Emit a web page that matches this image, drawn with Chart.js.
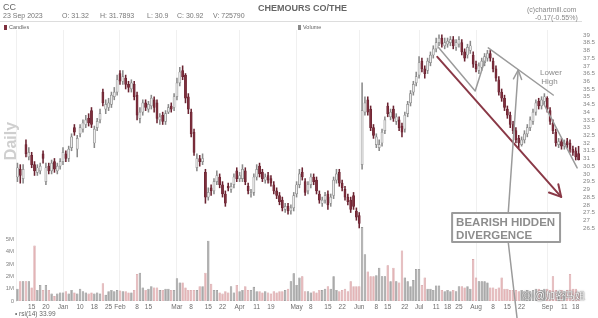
<!DOCTYPE html>
<html><head><meta charset="utf-8">
<script src="https://cdn.jsdelivr.net/npm/chart.js@4.4.0/dist/chart.umd.min.js"></script>
<style>
html,body{margin:0;padding:0;background:#fff;}
#wrap{position:relative;width:598px;height:318px;overflow:hidden;font-family:"Liberation Sans",Arial,sans-serif;background:#fff;}
#c{position:absolute;left:0;top:0;}
.t{position:absolute;white-space:pre;color:#777;line-height:1;}
</style></head><body>
<div id="wrap">
<canvas id="c" width="598" height="318"></canvas>
<div class="t" style="left:3px;top:3px;font-size:9px;color:#666;">CC</div>
<div class="t" style="left:3px;top:12px;font-size:7px;">23 Sep 2023</div>
<div class="t" style="left:62px;top:12px;font-size:7px;">O: 31.32</div>
<div class="t" style="left:100px;top:12px;font-size:7px;">H: 31.7893</div>
<div class="t" style="left:147px;top:12px;font-size:7px;">L: 30.9</div>
<div class="t" style="left:177px;top:12px;font-size:7px;">C: 30.92</div>
<div class="t" style="left:213px;top:12px;font-size:7px;">V: 725790</div>
<div style="position:absolute;left:0;top:21px;width:582px;border-top:1px solid #ddd;"></div>
<div class="t" style="left:4px;top:25px;font-size:5.5px;color:#666;"><span style="display:inline-block;width:3px;height:5px;background:#7e2f3d;margin-right:2px;vertical-align:-1px;"></span>Candles</div>
<div class="t" style="left:258px;top:4px;font-size:9px;font-weight:bold;color:#666;">CHEMOURS CO/THE</div>
<div class="t" style="left:298px;top:25px;font-size:5.5px;color:#666;"><span style="display:inline-block;width:3px;height:5px;background:#8a8a8a;margin-right:2px;vertical-align:-1px;"></span>Volume</div>
<div class="t" style="left:527px;top:6px;font-size:7px;color:#888;">(c)chartmill.com</div>
<div class="t" style="left:535px;top:14px;font-size:7px;color:#888;">-0.17(-0.55%)</div>
<div class="t" style="left:-8px;top:133px;font-size:16px;font-weight:bold;color:#cfcfcf;transform:rotate(-90deg);">Daily</div>
<div class="t" style="left:15px;top:311px;font-size:6.5px;color:#666;">• rsi(14) 33.99</div>
<div class="t" style="left:522px;top:291px;font-size:10px;color:#fff;text-shadow:0 0 2px #555,0 0 1px #555;">◎ @加密马姐</div>
</div>
<script>
// ---- data ----
const opens = [
29.8,30.3,29.7,31.9,31.1,31.2,30.6,30.1,30.2,31.3,
29.5,30.5,30.2,30.8,30.2,30.5,30.8,31.3,31.0,31.7,
33.0,31.6,32.6,32.9,33.2,33.6,34.1,32.0,33.0,33.5,
35.3,34.2,34.3,34.5,35.0,35.3,36.5,36.0,36.2,35.8,
35.5,35.8,35.1,33.6,34.0,34.6,34.2,34.4,34.8,34.6,
33.5,33.8,33.4,34.0,34.4,34.3,35.0,35.9,36.7,36.4,
35.0,34.0,32.7,30.4,31.0,30.8,30.1,28.5,29.1,28.9,
29.5,29.8,29.3,28.7,29.2,29.0,29.3,30.2,29.7,29.7,
30.2,29.2,28.7,28.8,29.8,30.5,30.1,29.6,29.9,29.7,
29.3,28.9,28.6,28.3,27.7,27.9,27.6,27.8,28.7,29.3,
30.1,29.5,28.9,29.3,29.8,29.6,28.7,28.1,28.3,28.7,
28.1,28.6,29.6,30.1,29.4,29.0,28.5,28.3,28.6,27.6,
27.3,30.6,34.0,34.8,34.2,33.0,31.9,31.7,32.0,32.8,
34.4,33.7,34.2,33.4,33.5,33.1,32.9,33.9,34.6,35.3,
35.9,36.4,37.3,36.8,36.7,37.2,37.7,38.1,38.5,38.8,
38.3,38.4,38.5,38.7,38.2,38.4,38.5,37.9,37.7,38.0,
37.7,37.1,36.7,36.9,37.2,37.5,37.8,37.3,36.8,36.1,
35.3,34.9,34.2,33.8,33.2,32.8,32.3,31.9,32.2,32.6,
33.0,33.4,34.0,34.7,34.4,34.7,34.9,34.1,33.3,32.7,
31.9,32.1,31.8,32.1,32.0,31.6,31.5,31.32];
const highs = [
30.7,30.6,30.6,32.2,31.7,31.4,30.8,30.6,30.7,31.5,
30.7,30.7,30.9,31.0,30.7,31.0,31.7,31.5,31.8,32.6,
33.2,32.5,33.2,33.5,33.8,33.9,34.3,33.1,33.6,34.2,
35.5,34.8,34.9,35.3,35.6,36.4,36.7,36.7,36.4,36.0,
36.1,36.0,35.3,34.3,34.8,34.8,34.7,35.1,35.0,34.8,
33.9,34.0,34.1,34.5,34.6,35.2,36.2,36.9,37.0,36.5,
35.2,34.2,32.9,31.3,31.2,31.3,30.3,29.1,29.3,29.7,
30.2,30.0,29.5,28.9,29.4,29.4,30.0,30.4,30.1,30.6,
30.4,29.4,29.0,30.0,30.6,30.7,30.3,30.0,30.1,29.9,
29.5,29.1,28.8,28.5,28.1,28.1,28.0,28.8,29.5,30.3,
30.4,29.7,29.5,30.0,30.0,29.8,28.9,28.5,28.8,28.9,
28.7,29.8,30.3,30.3,29.6,29.2,28.7,28.5,28.8,27.8,
27.5,35.9,35.0,35.0,34.4,33.2,32.6,32.2,32.9,33.7,
34.6,34.2,34.4,33.9,33.7,33.3,34.0,34.7,35.4,36.0,
36.6,37.6,37.5,37.0,37.5,37.9,38.3,38.8,39.0,39.0,
38.8,38.8,38.9,38.9,38.7,38.9,38.7,38.1,38.4,38.6,
37.9,37.3,37.2,37.5,37.8,38.0,38.0,37.5,37.0,36.3,
35.5,35.1,34.4,34.0,33.4,33.0,32.5,32.4,32.8,33.2,
33.7,34.2,34.8,34.9,35.0,35.2,35.0,34.3,33.5,32.9,
32.3,32.3,32.2,32.3,32.2,31.8,31.7,31.79];
const lows = [
29.5,29.4,29.4,31.1,30.9,30.4,29.9,29.9,30.0,30.7,
29.3,30.0,30.0,30.1,30.0,30.3,30.6,30.8,30.8,31.5,
32.5,31.1,32.4,32.7,33.0,33.1,33.0,31.7,32.8,33.3,
34.4,33.9,34.1,34.3,34.8,35.1,35.8,35.8,35.5,35.3,
35.3,34.8,33.5,33.3,33.8,34.1,34.0,34.2,34.0,33.3,
33.2,33.2,33.2,33.9,34.0,34.1,34.8,35.7,36.1,34.6,
33.9,32.4,31.2,30.2,30.5,30.6,28.1,28.3,28.6,28.7,
29.3,29.1,28.5,27.9,28.9,28.8,29.1,29.5,29.5,29.5,
29.3,28.7,28.5,28.6,29.6,29.8,29.5,29.4,29.4,29.2,
28.7,28.4,28.0,27.6,27.5,27.4,27.4,27.6,28.5,29.1,
29.6,28.6,28.7,29.1,29.3,28.7,28.1,27.9,28.1,27.7,
27.9,28.4,29.4,29.2,28.9,28.3,28.0,27.5,27.7,27.0,
26.5,30.3,33.8,33.8,32.8,32.3,31.7,31.5,31.8,32.6,
33.7,33.5,33.4,33.2,32.8,32.4,32.7,33.7,34.4,35.1,
35.7,36.2,36.6,36.2,36.5,37.0,37.5,37.9,38.3,38.2,
38.1,38.2,38.3,38.1,38.0,38.2,37.7,37.3,37.5,37.8,
36.9,36.6,36.5,36.7,37.0,37.3,37.3,36.6,36.0,35.1,
34.7,34.1,33.6,33.0,32.6,32.0,31.7,31.8,32.0,32.4,
32.8,33.2,33.8,34.2,34.2,34.5,34.0,33.2,32.6,31.8,
31.7,31.6,31.6,31.7,31.4,31.2,30.9,30.9];
const closes = [
30.4,29.9,30.3,31.3,31.4,30.6,30.2,30.4,30.5,31.0,
30.4,30.2,30.7,30.3,30.5,30.8,31.4,31.0,31.6,32.4,
32.7,32.3,33.0,33.3,33.5,33.3,33.2,32.9,33.4,33.9,
34.6,34.5,34.6,35.1,35.3,36.1,36.0,36.3,35.8,35.6,
35.9,35.0,33.8,34.0,34.6,34.3,34.5,34.9,34.3,33.6,
33.7,33.4,33.9,34.3,34.2,35.0,35.9,36.6,36.3,34.9,
34.2,32.6,31.4,31.0,30.8,31.0,28.5,28.8,28.9,29.5,
29.9,29.3,28.7,28.1,29.1,29.2,29.8,29.7,29.9,30.3,
29.5,28.9,28.8,29.8,30.3,30.0,29.7,29.8,29.6,29.4,
28.9,28.6,28.2,27.8,27.9,27.6,27.8,28.6,29.3,30.0,
29.8,28.8,29.3,29.8,29.5,28.9,28.3,28.3,28.6,28.0,
28.5,29.6,30.0,29.4,29.1,28.5,28.2,27.7,27.9,27.2,
26.8,34.1,34.6,34.0,33.0,32.5,32.4,31.9,32.7,33.5,
33.9,34.0,33.6,33.7,33.0,32.7,33.8,34.5,35.2,35.8,
36.3,37.2,36.8,36.5,37.3,37.7,38.1,38.5,38.8,38.4,
38.5,38.6,38.7,38.3,38.5,38.7,37.9,37.5,38.2,38.3,
37.1,36.8,37.0,37.3,37.6,37.8,37.5,36.8,36.2,35.3,
34.9,34.3,33.8,33.2,32.8,32.2,32.0,32.2,32.6,33.0,
33.5,34.0,34.6,34.4,34.8,35.0,34.2,33.4,32.8,32.0,
32.1,31.8,32.0,31.9,31.6,31.4,31.1,30.92];
// volume in millions of shares
const volumes = [
1.0,1.6,1.6,1.6,1.6,1.1,4.5,0.9,1.3,0.9,
1.3,0.9,0.6,0.4,0.6,0.7,0.7,0.8,0.6,0.9,
0.7,0.6,1.0,0.8,0.7,0.6,0.7,0.6,0.7,0.6,
1.45,0.5,0.8,0.9,0.8,0.9,0.85,0.8,0.8,0.7,
0.7,0.9,2.2,2.3,1.1,0.9,1.0,1.2,1.1,1.1,
0.9,0.9,1.0,1.0,0.9,0.9,1.85,1.5,1.5,1.1,
0.9,0.9,0.9,0.9,1.2,1.2,2.3,4.9,1.4,0.9,
0.9,0.7,0.6,0.8,0.7,1.2,0.7,1.3,0.8,0.9,
1.2,0.9,0.9,1.15,0.8,0.8,0.7,0.8,0.7,0.6,
0.8,0.7,0.8,0.8,0.9,1.0,1.6,2.25,1.3,1.9,
2.0,0.8,0.8,0.7,0.8,0.7,0.9,0.9,1.0,1.2,
1.0,2.0,0.9,0.8,0.9,1.0,0.8,1.6,1.2,1.2,
1.2,6.0,3.8,2.4,2.0,2.0,2.1,2.7,2.0,2.0,
2.9,1.6,2.7,1.6,1.5,4.1,1.9,1.6,1.2,1.7,
2.6,2.6,1.3,1.9,1.0,1.0,0.9,1.25,1.25,0.9,
0.8,0.9,0.8,0.9,0.8,1.2,1.2,1.1,1.2,1.0,
3.4,1.9,1.6,1.6,1.6,1.5,1.1,1.1,1.0,1.1,
1.9,1.0,1.0,0.9,0.9,0.9,0.8,0.9,0.8,0.9,
0.8,0.9,1.0,1.0,0.9,1.0,1.0,0.9,2.0,0.9,
0.8,0.9,0.8,0.9,2.2,1.0,1.0,0.7];
const holidays = ['2022-12-26','2023-01-02','2023-01-16','2023-02-20','2023-04-07','2023-05-29','2023-06-19','2023-07-04','2023-09-04'];
const xTickIndex = [5,10,16,22,27,32,36,42,46,56,61,67,72,78,84,89,98,103,109,114,120,126,130,136,141,147,151,155,161,167,172,177,186,192,196];
const xTickText = ['15','20','Jan','10','18','25','Feb','8','15','Mar','8','15','22','Apr','11','19','May','8','15','22','Jun','8','15','22','Jul','11','18','25','Aug','8','15','22','Sep','11','18'];
const monthNames = ['Jan','Feb','Mar','Apr','May','Jun','Jul','Aug','Sep'];

// trading-day categories
const categories = [];
(function(){
  const d = new Date(Date.UTC(2022,11,7));
  while (categories.length < closes.length) {
    const s = d.toISOString().slice(0,10), wd = d.getUTCDay();
    if (wd !== 0 && wd !== 6 && !holidays.includes(s)) categories.push(s);
    d.setUTCDate(d.getUTCDate()+1);
  }
})();

// annotations, in (bar index, price) coordinates
const ann = {
  maroonArrow: [[147.4,37.58],[190.9,28.51]],
  greyV: [[147.7,38.22],[160.7,35.37],[164.0,37.3]],
  upperTrend: [[165.3,38.16],[188.1,35.11]],
  lowerTrend: [[184.6,34.6],[196.5,30.39]],
  upArrow: [[172.3,27.47],[175.8,36.73]],
  downLine: [[172.3,25.59],[175.4,20.67]],
  box: [[152.6,27.47],[190.5,25.59]],
  lowerHigh: [[183.5,36.55],[183.9,35.95]]
};

const isUp = i => closes[i] >= opens[i];

const annotPlugin = {
  id: 'annot',
  afterDatasetsDraw(chart) {
    const {ctx, scales:{x, y}} = chart;
    const P = p => [x.getPixelForValue(p[0]), y.getPixelForValue(p[1])];
    const line = (pts, color, w) => {
      ctx.beginPath(); ctx.strokeStyle = color; ctx.lineWidth = w; ctx.lineJoin='round'; ctx.lineCap='round';
      pts.map(P).forEach((q,k) => k ? ctx.lineTo(q[0],q[1]) : ctx.moveTo(q[0],q[1]));
      ctx.stroke();
    };
    const head = (a, b, color, w, len, ang) => {
      const A = P(a), B = P(b);
      const t = Math.atan2(B[1]-A[1], B[0]-A[0]);
      ctx.beginPath(); ctx.strokeStyle = color; ctx.lineWidth = w;
      ctx.moveTo(B[0]-len*Math.cos(t-ang), B[1]-len*Math.sin(t-ang));
      ctx.lineTo(B[0],B[1]);
      ctx.lineTo(B[0]-len*Math.cos(t+ang), B[1]-len*Math.sin(t+ang));
      ctx.stroke();
    };
    ctx.save();
    const grey = '#9b9b9b', maroon = '#8a3947';
    line(ann.greyV, grey, 1.5);
    line(ann.upperTrend, grey, 1.5);
    line(ann.lowerTrend, grey, 1.5);
    line(ann.maroonArrow, maroon, 2);
    head(ann.maroonArrow[0], ann.maroonArrow[1], maroon, 2, 13, 0.5);
    line(ann.upArrow, grey, 1.5);
    head(ann.upArrow[0], ann.upArrow[1], grey, 1.5, 10, 0.42);
    line(ann.downLine, grey, 1.5);
    const b0 = P(ann.box[0]), b1 = P(ann.box[1]);
    ctx.fillStyle = 'rgba(255,255,255,0.92)';
    ctx.fillRect(b0[0], b0[1], b1[0]-b0[0], b1[1]-b0[1]);
    ctx.strokeStyle = '#9b9b9b'; ctx.lineWidth = 2;
    ctx.strokeRect(b0[0], b0[1], b1[0]-b0[0], b1[1]-b0[1]);
    ctx.fillStyle = '#8d8d8d';
    ctx.font = 'bold 11.5px "Liberation Sans", Arial, sans-serif';
    ctx.textBaseline = 'alphabetic'; ctx.textAlign = 'left';
    ctx.fillText('BEARISH HIDDEN', b0[0]+4, b0[1]+13);
    ctx.fillText('DIVERGENCE', b0[0]+4, b0[1]+26);
    ctx.font = '8px "Liberation Sans", Arial, sans-serif';
    ctx.fillStyle = '#8a8a8a'; ctx.textBaseline = 'middle';
    let q = P(ann.lowerHigh[0]); ctx.fillText('Lower', q[0], q[1]);
    q = P(ann.lowerHigh[1]); ctx.fillText('High', q[0], q[1]);
    ctx.restore();
  }
};

new Chart(document.getElementById('c'), {
  type: 'bar',
  data: {
    labels: categories,
    datasets: [
      { label: 'Candles', data: opens.map((o,i) => [o, closes[i]]), yAxisID: 'y', grouped: false,
        barThickness: 2.2, borderSkipped: false, borderWidth: 0.7, order: 0,
        backgroundColor: c => isUp(c.dataIndex) ? '#ececec' : '#7e2f3d',
        borderColor: c => isUp(c.dataIndex) ? '#8a8a8a' : '#6a2331' },
      { label: 'Wicks', data: lows.map((l,i) => [l, highs[i]]), yAxisID: 'y', grouped: false,
        barThickness: 0.9, order: 1,
        backgroundColor: c => isUp(c.dataIndex) ? '#8a8a8a' : '#6a2331' },
      { label: 'Volume', data: volumes.map(v => v*1e6), yAxisID: 'yv', grouped: false,
        barPercentage: 0.85, categoryPercentage: 1, borderWidth: 0.6, borderSkipped: false, order: 2,
        backgroundColor: c => isUp(c.dataIndex) ? 'rgba(160,160,160,0.9)' : 'rgba(226,176,178,0.95)',
        borderColor: c => isUp(c.dataIndex) ? '#858585' : '#cf979b' }
    ]
  },
  options: {
    responsive: false, animation: false, devicePixelRatio: 1,
    layout: { padding: { top: 30, left: 0, right: 0, bottom: 0 } },
    plugins: { legend: { display: false }, tooltip: { enabled: false } },
    scales: {
      x: {
        type: 'category', offset: true,
        afterBuildTicks: s => { s.ticks = s.ticks.filter(t => xTickIndex.includes(t.value)); },
        afterFit: s => { s.height = 17; },
        ticks: { autoSkip: false, maxRotation: 0, padding: 2, color: '#6d6d6d',
          font: { size: 6.5, family: '"Liberation Sans", Arial, sans-serif' },
          callback: v => xTickText[xTickIndex.indexOf(v)] },
        grid: { offset: false, drawTicks: false,
          color: c => (c.tick && monthNames.includes(xTickText[xTickIndex.indexOf(c.tick.value)])) ? 'rgba(0,0,0,0.06)' : 'rgba(0,0,0,0)' },
        border: { display: false }
      },
      y: {
        position: 'right', min: 21.77, max: 39.32,
        afterBuildTicks: s => { s.ticks = s.ticks.filter(t => t.value >= 26.5 && t.value <= 39 && Math.abs(t.value*2 - Math.round(t.value*2)) < 1e-6); },
        afterFit: s => { s.width = 18; },
        ticks: { stepSize: 0.5, includeBounds: false, autoSkip: false, padding: 3, color: '#858585',
          font: { size: 6.2, family: '"Liberation Sans", Arial, sans-serif' },
          callback: v => String(Math.round(v*10)/10) },
        grid: { display: false, drawTicks: false, tickLength: 0 }, border: { display: false }
      },
      yv: {
        position: 'left', min: 0, max: 22e6,
        afterBuildTicks: s => { s.ticks = s.ticks.filter(t => t.value <= 5e6 && t.value % 1e6 === 0); },
        afterFit: s => { s.width = 16; },
        ticks: { stepSize: 1e6, includeBounds: false, autoSkip: false, padding: 2, color: '#858585',
          font: { size: 6, family: '"Liberation Sans", Arial, sans-serif' },
          callback: v => v === 0 ? '0' : (v/1e6) + 'M' },
        grid: { display: false, drawTicks: false, tickLength: 0 }, border: { display: true, color: 'rgba(0,0,0,0.06)' }
      }
    }
  },
  plugins: [annotPlugin]
});
</script>
</body></html>
